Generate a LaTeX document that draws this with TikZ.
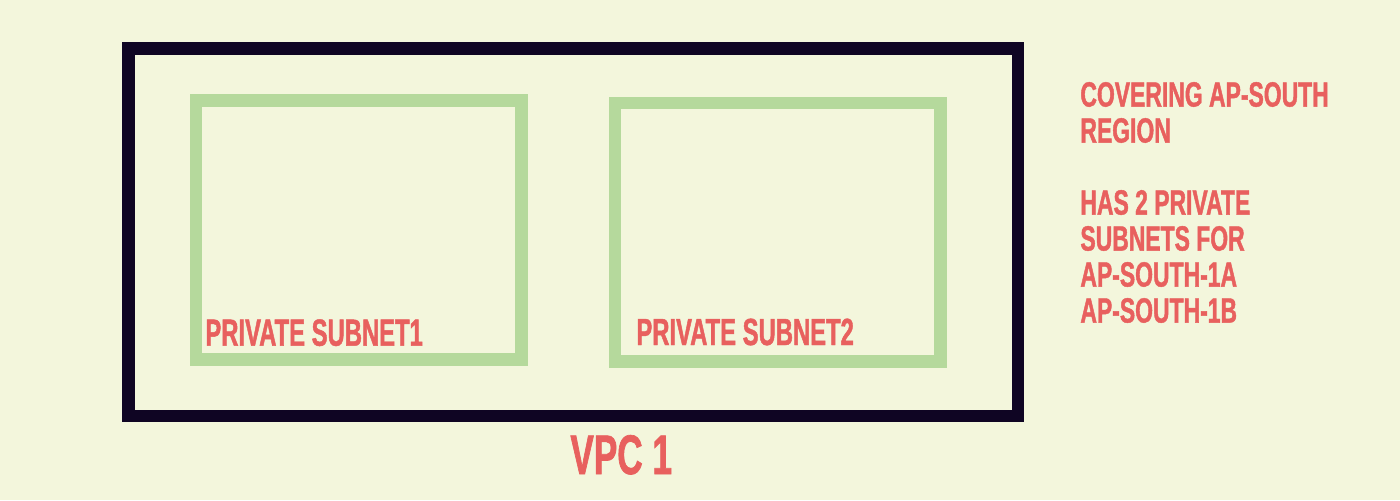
\documentclass[tikz,border=0pt]{standalone}
\usepackage{fontspec}
\newfontfamily\capsfont{Liberation Sans}[FakeStretch=0.63,FakeBold=1.2]
\newfontfamily\notesfont{Liberation Sans}[FakeStretch=0.655,FakeBold=1.2]
\definecolor{paper}{HTML}{F3F6DC}
\definecolor{vpcdark}{HTML}{0F0523}
\definecolor{subnetgreen}{HTML}{B5D99C}
\definecolor{labelred}{HTML}{E8605E}
\tikzset{
	vpcline/.style={draw=vpcdark,line width=6.35pt},
	subnetline/.style={draw=subnetgreen,line width=6.25pt},
	tag/.style={text=labelred,inner sep=0pt,anchor=base west}
}
\begin{document}
\begin{tikzpicture}[x=0.5pt,y=-0.5pt,font=\capsfont\bfseries]
		\fill[paper] (0,0) rectangle (1400,500);
		\draw[vpcline] (128.5,48.7) rectangle (1018,416);
		\draw[subnetline] (196,100.3) rectangle (521.3,359.7);
		\draw[subnetline] (614.8,103.2) rectangle (940.3,361.3);
		\node[tag,font=\capsfont\bfseries\fontsize{18.9}{20}\selectfont] (subnet1) at (205,345.7) {PRIVATE SUBNET1};
		\node[tag,font=\capsfont\bfseries\fontsize{18.9}{20}\selectfont] (subnet2) at (636,345) {PRIVATE SUBNET2};
		\node[tag,font=\capsfont\bfseries\fontsize{27.9}{30}\selectfont] (vpc) at (570,474) {VPC 1};
		\node[tag,anchor=north west,align=left,font=\notesfont\bfseries\fontsize{17.5}{18}\selectfont] (notes) at (1080,81.7)
			{COVERING AP-SOUTH\\REGION\\[18pt]HAS 2 PRIVATE\\SUBNETS FOR\\AP-SOUTH-1A\\AP-SOUTH-1B};
	\end{tikzpicture}
\end{document}
